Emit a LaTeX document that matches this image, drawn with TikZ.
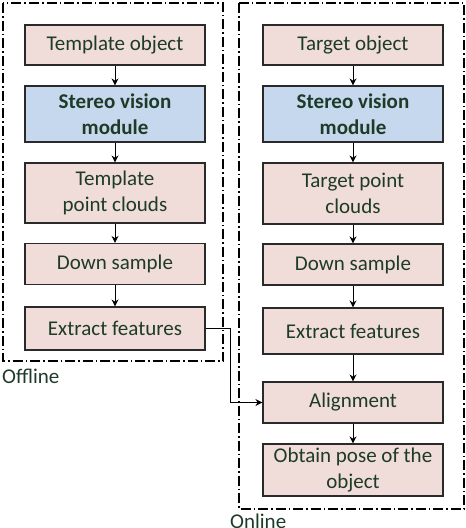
\documentclass[tikz,border=0pt]{standalone}
\usepackage{fontspec}
\setmainfont{Carlito}
\usetikzlibrary{arrows.meta}
\definecolor{pinkfill}{HTML}{F0DCD9}
\definecolor{bluefill}{HTML}{C6D8EE}
\definecolor{txt}{HTML}{1E3B28}
\definecolor{edge}{HTML}{2A2A2A}
\tikzset{
  box/.style={draw=edge, line width=1.1pt, fill=pinkfill, text=txt, align=center, font=\fontsize{21}{26}\selectfont, inner sep=0pt},
  bluebox/.style={box, fill=bluefill, font=\fontsize{21}{26}\selectfont\bfseries},
  frame/.style={draw=black, line width=1.1pt, dash pattern=on 10pt off 3pt on 1.5pt off 3pt},
  conn/.style={draw=black, line width=0.9pt, -{Stealth[length=7pt,width=7pt]}},
  lab/.style={text=txt, font=\fontsize{21}{26}\selectfont, anchor=west, inner sep=0pt}
}
\begin{document}
\begin{tikzpicture}[x=1pt,y=-1pt]
\useasboundingbox (0,0) rectangle (466,528);
% frames
\draw[frame] (3,3) rectangle (223,361);
\draw[frame] (239,3) rectangle (464,509);
\node[lab] (offline) at (2,376) {Offline};
\node[lab] (online) at (230,521) {Online};
% left column
\node[box, minimum width=180pt, minimum height=40pt] (l1) at (115,45) {Template object};
\node[bluebox, minimum width=180pt, minimum height=56pt] (l2) at (115,114) {Stereo vision\\module};
\node[box, minimum width=180pt, minimum height=60pt] (l3) at (115,193) {Template\\point clouds};
\node[box, minimum width=180pt, minimum height=41pt] (l4) at (115,264) {Down sample};
\node[box, minimum width=180pt, minimum height=43pt] (l5) at (115,328.5) {Extract features};
% right column
\node[box, minimum width=180pt, minimum height=40pt] (r1) at (353,45) {Target object};
\node[bluebox, minimum width=180pt, minimum height=56pt] (r2) at (353,114) {Stereo vision\\module};
\node[box, minimum width=180pt, minimum height=61pt] (r3) at (353,193.5) {Target point\\clouds};
\node[box, minimum width=180pt, minimum height=41pt] (r4) at (353,264.5) {Down sample};
\node[box, minimum width=180pt, minimum height=46pt] (r5) at (353,331) {Extract features};
\node[box, minimum width=180pt, minimum height=41pt] (r6) at (353,402.5) {Alignment};
\node[box, minimum width=180pt, minimum height=52pt] (r7) at (353,470) {Obtain pose of the\\object};
% arrows
\draw[conn] (l1) -- (l2);
\draw[conn] (l2) -- (l3);
\draw[conn] (l3) -- (l4);
\draw[conn] (l4) -- (l5);
\draw[conn] (r1) -- (r2);
\draw[conn] (r2) -- (r3);
\draw[conn] (r3) -- (r4);
\draw[conn] (r4) -- (r5);
\draw[conn] (r5) -- (r6);
\draw[conn] (r6) -- (r7);
\coordinate (bend) at (230,328);
\draw[conn] (l5.east |- bend) -- (bend) |- (r6.west);
\end{tikzpicture}
\end{document}
